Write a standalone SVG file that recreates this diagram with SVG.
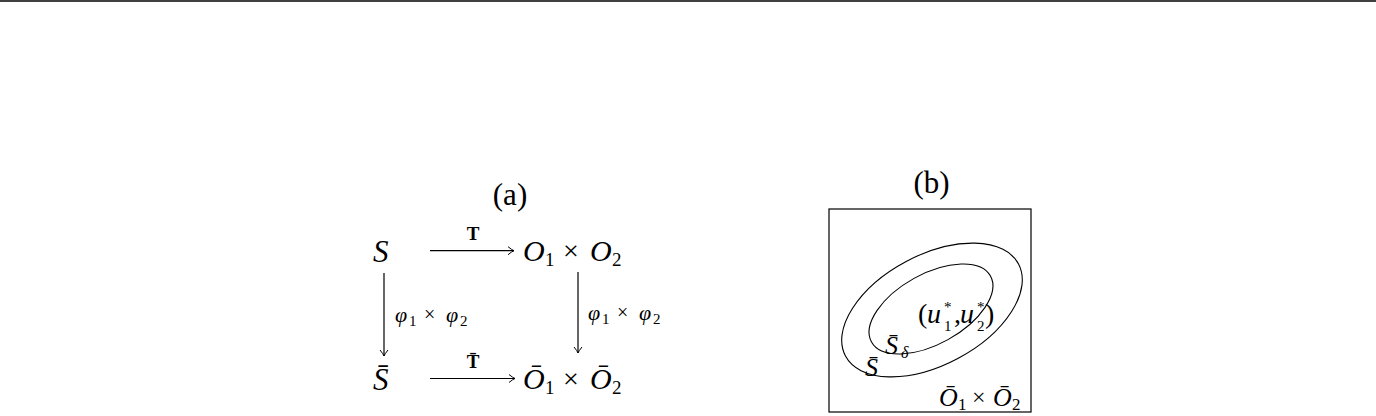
<svg xmlns="http://www.w3.org/2000/svg" width="1376" height="416" viewBox="0 0 1376 416">
<style>
text{font-family:'Liberation Serif','DejaVu Serif',serif;fill:#000}
.it{font-style:italic}
.up{font-style:normal}
.bf{font-weight:bold}
.ln{stroke:#000;stroke-width:1.2;fill:none}
</style>
<defs>
<marker id="tip" markerWidth="10" markerHeight="10" refX="8" refY="5" orient="auto" markerUnits="userSpaceOnUse">
<path d="M2,1 Q6,4.3 8,5 Q6,5.7 2,9" fill="none" stroke="#000" stroke-width="1"/>
</marker>
</defs>
<rect width="1376" height="416" fill="#fff"/>
<line x1="0" y1="1" x2="1376" y2="1" stroke="#000" stroke-width="1.6"/>

<g id="label-a"><text x="510" y="205" font-size="31" text-anchor="middle">(a)</text></g>
<g id="label-b"><text x="931.5" y="193" font-size="31" text-anchor="middle">(b)</text></g>

<g id="node-S"><text class="it" x="373" y="262" font-size="31">S</text></g>
<g id="node-O1O2"><text class="it" x="523" y="261" font-size="30">O<tspan class="up" x="545" y="266" font-size="19">1</tspan><tspan class="up" x="563" y="260" font-size="28">×</tspan><tspan x="590" y="261">O</tspan><tspan class="up" x="612" y="266" font-size="19">2</tspan></text></g>
<g id="node-Sbar"><text class="it" x="373" y="390" font-size="31">S̄</text></g>
<g id="node-Obar"><text class="it" x="523" y="389" font-size="30">Ō<tspan class="up" x="545" y="394" font-size="19">1</tspan><tspan class="up" x="563" y="388" font-size="28">×</tspan><tspan x="590" y="389">Ō</tspan><tspan class="up" x="612" y="394" font-size="19">2</tspan></text></g>

<g id="connectors">
<line class="ln" x1="430" y1="250.7" x2="514" y2="250.7" marker-end="url(#tip)"/>
<line class="ln" x1="430" y1="378.5" x2="515" y2="378.5" marker-end="url(#tip)"/>
<line class="ln" x1="384" y1="273" x2="384" y2="356" marker-end="url(#tip)"/>
<line class="ln" x1="578" y1="272" x2="578" y2="353" marker-end="url(#tip)"/>
<text class="bf" x="473" y="240" font-size="19" text-anchor="middle">T</text>
<text class="bf" x="473" y="368" font-size="19" text-anchor="middle">T̄</text>
<text class="it" x="395" y="322" font-size="22">φ<tspan class="up" x="409" y="326" font-size="15">1</tspan><tspan class="up" x="424" y="321" font-size="20">×</tspan><tspan x="446" y="322">φ</tspan><tspan class="up" x="460" y="326" font-size="15">2</tspan></text>
<text class="it" x="588" y="320" font-size="22">φ<tspan class="up" x="602" y="324" font-size="15">1</tspan><tspan class="up" x="617" y="319" font-size="20">×</tspan><tspan x="639" y="320">φ</tspan><tspan class="up" x="653" y="324" font-size="15">2</tspan></text>
</g>

<g id="panel-b">
<rect x="829" y="209" width="202" height="203" fill="none" stroke="#000" stroke-width="1.2"/>
<ellipse cx="932" cy="310" rx="98" ry="55" transform="rotate(-28 932 310)" fill="none" stroke="#000" stroke-width="1.1"/>
<ellipse cx="931" cy="309" rx="68" ry="35" transform="rotate(-29 931 309)" fill="none" stroke="#000" stroke-width="1.1"/>
<text x="918" y="323" font-size="28">(<tspan class="it" x="927">u</tspan><tspan x="944" y="312" font-size="15">*</tspan><tspan x="944" y="331" font-size="15">1</tspan><tspan x="954" y="323" font-size="28">,</tspan><tspan class="it" x="960" y="323" font-size="28">u</tspan><tspan x="977" y="312" font-size="15">*</tspan><tspan x="977" y="331" font-size="15">2</tspan><tspan x="985" y="323" font-size="28">)</tspan></text>
<text class="it" x="885" y="354" font-size="26">S̄<tspan x="901" y="358" font-size="16">δ</tspan></text>
<text class="it" x="865" y="376" font-size="26">S̄</text>
<text class="it" x="939" y="406" font-size="26">Ō<tspan class="up" x="958" y="410" font-size="17">1</tspan><tspan class="up" x="972" y="405" font-size="24">×</tspan><tspan x="993" y="406">Ō</tspan><tspan class="up" x="1012" y="410" font-size="17">2</tspan></text>
</g>
</svg>
